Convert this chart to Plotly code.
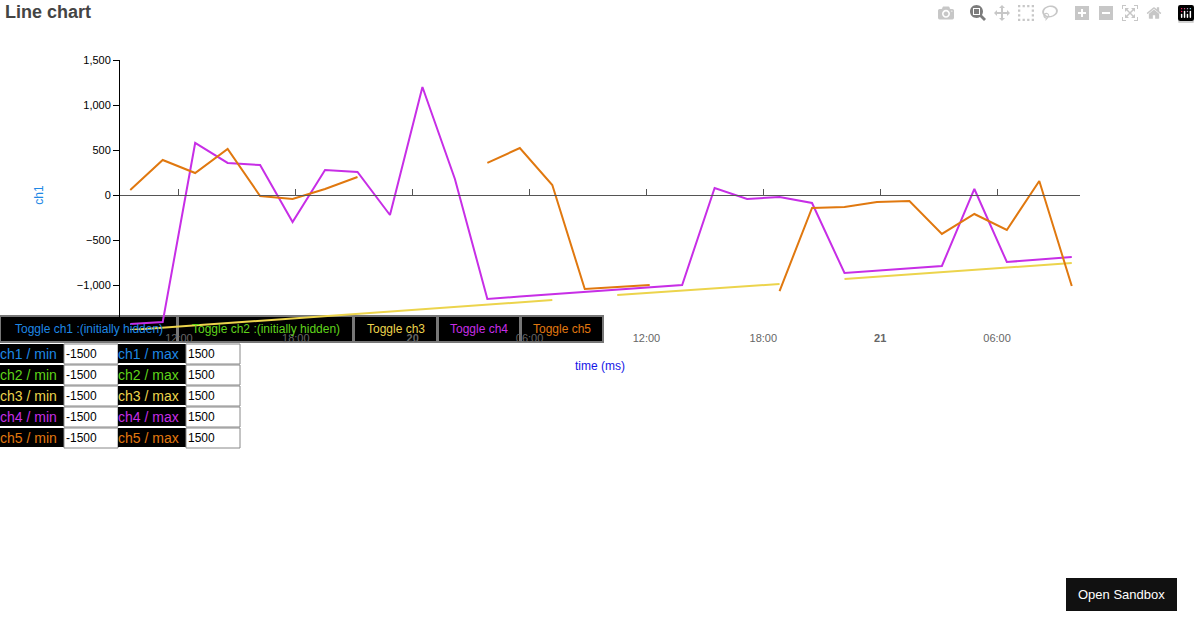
import plotly.graph_objects as go
import pandas as pd

times = pd.date_range("2021-01-19 09:30", periods=30, freq="100min")
N = None
ch3 = [-1500, -1474, -1449, -1423, -1398, -1372, -1346, -1321, -1295, -1270, -1244, -1218, -1193, -1167,
       N, -1111, -1087, -1062, -1038, -1013, -989, N,
       -933, -908, -882, -857, -832, -806, -781, -756]
ch4 = [-1433, -1411, 578, 356, 333, -300, 278, 256, -222, 1200, 178, -1155,
       -1129, -1103, -1078, -1052, -1026, -1000, 78, -44, -22, -89, -867,
       -841, -815, -789, 67, -744, -717, -689]
ch5 = [56, 389, 244, 511, -11, -44, 67, 200, N, N, N, 356, 522, 111, -1044, -1022, -1000,
       N, N, N, -1067, -144, -133, -78, -67, -433, -211, -389, 156, -1011]
tick_vals = ["2021-01-19 12:00", "2021-01-19 18:00", "2021-01-20 00:00", "2021-01-20 06:00",
             "2021-01-20 12:00", "2021-01-20 18:00", "2021-01-21 00:00", "2021-01-21 06:00"]
tick_text = ["12:00", "18:00", "<b>20</b>", "06:00", "12:00", "18:00", "<b>21</b>", "06:00"]
channels = ["ch1", "ch2", "ch3", "ch4", "ch5"]
colors = ["#1e88e5", "#5fd31a", "#ecd44c", "#c72ee6", "#e0780f"]
buttons = ["Toggle ch1 :(initially hidden)", "Toggle ch2 :(initially hidden)", "Toggle ch3", "Toggle ch4", "Toggle ch5"]

FONT = "Liberation Sans, Arial, sans-serif"
L, R, T, B = 120, 1080, 60, 330
def px(x): return (x - L) / (R - L)
def py(y): return (B - y) / (B - T)

x0 = pd.Timestamp("2021-01-19 12:00") - pd.Timedelta(hours=59 / 117 * 6)
x1 = pd.Timestamp("2021-01-21 06:00") + pd.Timedelta(hours=83 / 117 * 6)

fig = go.Figure()
for name, vals, col in [("ch3", ch3, colors[2]), ("ch4", ch4, colors[3]), ("ch5", ch5, colors[4])]:
    fig.add_trace(go.Scatter(x=times, y=vals, mode="lines", name=name,
                             line=dict(color=col, width=2), connectgaps=False))
fig.add_trace(go.Scatter(x=[x0], y=[0], xaxis="x2", mode="markers", marker=dict(opacity=0),
                         showlegend=False, hoverinfo="skip"))

shapes, ann = [], []
bx = [(0, 177), (178, 353), (354, 437), (438, 520), (521, 603)]
for (a, b), txt, col in zip(bx, buttons, colors):
    shapes.append(dict(type="rect", xref="paper", yref="paper", x0=px(a), x1=px(b), y0=py(342), y1=py(316),
                       fillcolor="black", line=dict(color="#777", width=2), layer="below"))
    ann.append(dict(x=px((a + b) / 2), y=py(329), xref="paper", yref="paper", text=txt, showarrow=False,
                    xanchor="center", yanchor="middle", font=dict(color=col, size=12, family=FONT)))
for i, (ch, col) in enumerate(zip(channels, colors)):
    top = 344 + 21 * i
    for lx0, lx1, ix0, ix1, lab, val in [(0, 64, 64, 118, ch + " / min", "-1500"),
                                         (118, 186, 186, 240, ch + " / max", "1500")]:
        shapes.append(dict(type="rect", xref="paper", yref="paper", x0=px(lx0), x1=px(lx1),
                           y0=py(top + 19), y1=py(top), fillcolor="black", line=dict(width=0)))
        shapes.append(dict(type="rect", xref="paper", yref="paper", x0=px(ix0), x1=px(ix1),
                           y0=py(top + 20), y1=py(top), fillcolor="white", line=dict(color="#888", width=1)))
        ann.append(dict(x=px(lx0), y=py(top + 10), xref="paper", yref="paper", text=lab, showarrow=False,
                        xanchor="left", yanchor="middle", xshift=-2, font=dict(color=col, size=14, family=FONT)))
        ann.append(dict(x=px(ix0), y=py(top + 10), xref="paper", yref="paper", text=val, showarrow=False,
                        xanchor="left", yanchor="middle", font=dict(color="black", size=12, family=FONT)))
ann.append(dict(x=px(5), y=py(12), xref="paper", yref="paper", text="<b>Line chart</b>", showarrow=False,
                xanchor="left", yanchor="middle", xshift=-2, font=dict(color="#444", size=18, family=FONT)))
shapes.append(dict(type="rect", xref="paper", yref="paper", x0=px(1066), x1=px(1177), y0=py(611), y1=py(578),
                   fillcolor="#111", line=dict(width=0)))
ann.append(dict(x=px(1121.5), y=py(594.5), xref="paper", yref="paper", text="Open Sandbox", showarrow=False,
                xanchor="center", yanchor="middle", font=dict(color="white", size=13, family=FONT)))
for path in [f"M {px(1186)},{py(7)} L {px(1186)},{py(19)}",
             f"M {px(1181)},{py(14)} L {px(1186)},{py(19)} L {px(1191)},{py(14)}",
             f"M {px(1179)},{py(17)} L {px(1179)},{py(22)} L {px(1193)},{py(22)} L {px(1193)},{py(17)}"]:
    shapes.append(dict(type="path", xref="paper", yref="paper", path=path, line=dict(color="#888", width=1.3)))

fig.update_layout(
    width=1200, height=630, margin=dict(l=L, r=1200 - R, t=T, b=630 - B),
    paper_bgcolor="white", plot_bgcolor="white", showlegend=False,
    font=dict(family=FONT),
    shapes=shapes, annotations=ann,
    xaxis=dict(type="date", range=[x0, x1], tickvals=tick_vals, ticktext=tick_text, showgrid=False,
               zeroline=False, showline=False, ticks="", tickfont=dict(color="#666", size=11),
               title=dict(text="time (ms)", font=dict(color="#1515e6", size=12), standoff=18)),
    xaxis2=dict(type="date", range=[x0, x1], overlaying="x", anchor="free", position=0.5, side="bottom",
                tickvals=tick_vals, showticklabels=False, showgrid=False, zeroline=False,
                showline=True, linecolor="#555", linewidth=1, ticks="inside", ticklen=6, tickcolor="#555"),
    yaxis=dict(range=[-1500, 1500], tickvals=[-1000, -500, 0, 500, 1000, 1500], tickformat=",",
               showgrid=False, zeroline=False, showline=True, linecolor="black", linewidth=1,
               ticks="outside", ticklen=6, tickcolor="black", tickfont=dict(color="black", size=11),
               title=dict(text="ch1", font=dict(color="#1e88e5", size=12), standoff=30)),
)
fig.write_html("out.html", post_script="document.body.style.margin='0';")
